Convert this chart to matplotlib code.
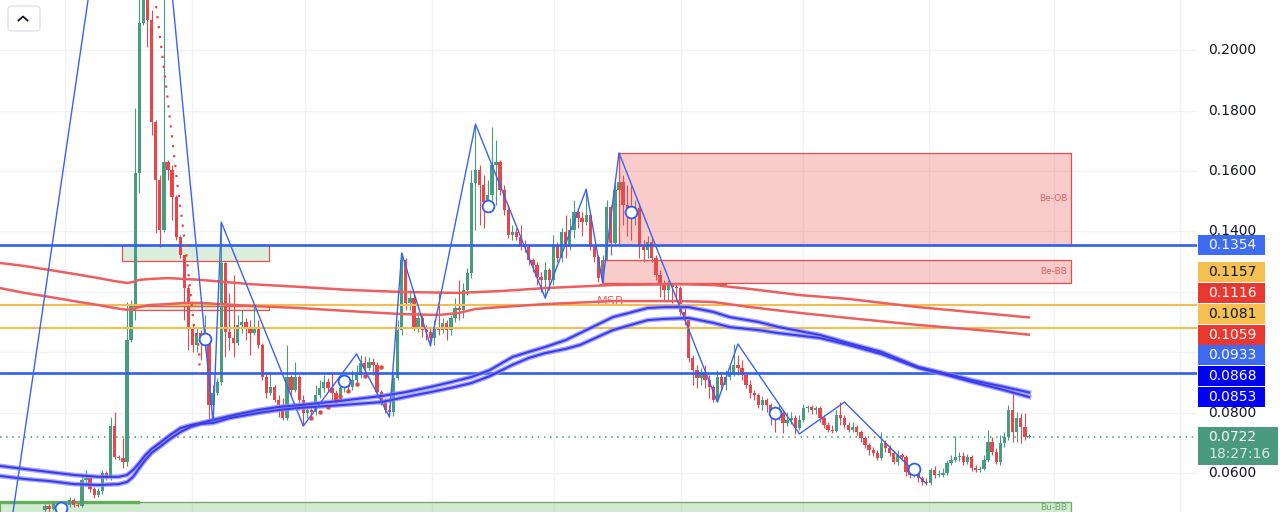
import matplotlib
matplotlib.use("Agg")
import matplotlib.pyplot as plt
from matplotlib.patches import Rectangle, FancyBboxPatch
from matplotlib.lines import Line2D
from matplotlib.transforms import IdentityTransform
import numpy as np

# ---- candles (open of each bar = previous close) ----
first_open = 0.0479
close = [
    .0493, .0482, .0499, .0493, .0486, .0496, .0512, .0496, .0494, .0579,
    .0585, .0549, .0529, .0542, .0602, .0585, .0757, .0655, .0651, .0638,
    .1041, .1157, .1593, .2089, .2198, .2099, .1762, .1570, .1405, .1630,
    .1603, .1514, .1382, .1322, .1213, .1081, .1025, .1064, .1035, .1051,
    .0826, .0866, .0902, .1296, .1068, .1048, .1031, .1091, .1101, .1081,
    .1064, .1084, .1025, .0919, .0866, .0886, .0843, .0826, .0783, .0919,
    .0876, .0919, .0843, .0800, .0810, .0803, .0860, .0883, .0902, .0883,
    .0866, .0843, .0883, .0899, .0886, .0909, .0926, .0965, .0949, .0969,
    .0959, .0870, .0836, .0810, .0803, .0916, .1074, .1306, .1164, .1180,
    .1081, .1114, .1074, .1068, .1048, .1084, .1074, .1098, .1074, .1114,
    .1147, .1141, .1207, .1263, .1560, .1603, .1554, .1498, .1521, .1620,
    .1630, .1537, .1471, .1388, .1398, .1382, .1355, .1349, .1306, .1289,
    .1250, .1240, .1273, .1240, .1355, .1312, .1398, .1349, .1405, .1464,
    .1445, .1431, .1454, .1349, .1316, .1246, .1306, .1481, .1362, .1537,
    .1564, .1488, .1471, .1461, .1478, .1355, .1339, .1365, .1312, .1256,
    .1223, .1207, .1223, .1217, .1213, .1134, .1107, .0982, .0942, .0916,
    .0935, .0909, .0886, .0843, .0919, .0893, .0919, .0932, .0959, .0949,
    .0926, .0893, .0866, .0860, .0826, .0843, .0826, .0800, .0783, .0800,
    .0767, .0777, .0783, .0750, .0777, .0817, .0820, .0810, .0817, .0783,
    .0760, .0744, .0741, .0793, .0783, .0760, .0744, .0754, .0737, .0717,
    .0694, .0678, .0668, .0651, .0701, .0684, .0668, .0638, .0661, .0655,
    .0605, .0595, .0602, .0585, .0572, .0569, .0612, .0595, .0595, .0602,
    .0635, .0645, .0655, .0658, .0638, .0655, .0618, .0612, .0615, .0645,
    .0704, .0671, .0638, .0701, .0721, .0810, .0737, .0783, .0754, .0721, .0722,
]
high = [
    .0499, .0499, .0509, .0503, .0496, .0506, .0522, .0519, .0503, .0592,
    .0612, .0592, .0555, .0552, .0612, .0608, .0787, .0803, .0661, .0717,
    .1167, .1174, .1808, .3322, .3000, .2500, .2132, .1769, .1587, .2198,
    .1636, .1620, .1521, .1388, .1322, .1223, .1091, .1081, .1074, .1124,
    .1058, .0893, .0916, .1431, .1299, .1197, .1256, .1124, .1141, .1114,
    .1107, .1157, .1107, .1031, .0935, .0935, .0893, .0860, .0850, .1025,
    .0926, .0969, .0926, .0860, .0826, .0836, .0893, .0909, .0926, .0916,
    .0935, .0876, .0899, .0916, .0909, .0942, .0959, .0992, .0989, .0985,
    .0982, .0969, .0876, .0850, .0826, .0935, .1107, .1329, .1312, .1207,
    .1190, .1134, .1124, .1091, .1081, .1107, .1200, .1114, .1107, .1124,
    .1180, .1240, .1230, .1279, .1603, .1755, .1620, .1587, .1570, .1745,
    .1703, .1636, .1554, .1488, .1421, .1411, .1421, .1372, .1355, .1312,
    .1299, .1266, .1299, .1279, .1388, .1365, .1411, .1454, .1445, .1504,
    .1478, .1464, .1540, .1464, .1355, .1322, .1322, .1504, .1488, .1577,
    .1660, .1587, .1554, .1554, .1504, .1494, .1372, .1385, .1378, .1322,
    .1273, .1240, .1240, .1230, .1223, .1220, .1147, .1114, .0992, .0959,
    .0949, .0959, .0926, .0893, .0942, .0935, .0942, .0959, .1028, .0992,
    .0975, .0935, .0909, .0876, .0866, .0856, .0850, .0833, .0810, .0826,
    .0810, .0803, .0803, .0793, .0793, .0830, .0826, .0826, .0823, .0823,
    .0793, .0770, .0760, .0810, .0836, .0793, .0770, .0770, .0760, .0744,
    .0724, .0701, .0688, .0678, .0737, .0711, .0694, .0674, .0678, .0668,
    .0661, .0618, .0625, .0605, .0592, .0585, .0618, .0625, .0612, .0618,
    .0645, .0661, .0724, .0671, .0671, .0664, .0661, .0628, .0625, .0661,
    .0744, .0721, .0684, .0727, .0737, .0826, .0886, .0803, .0800, .0800, .0730,
]
low = [
    .0473, .0473, .0479, .0479, .0473, .0479, .0489, .0489, .0489, .0489,
    .0562, .0539, .0519, .0522, .0532, .0579, .0579, .0648, .0645, .0618,
    .0625, .1035, .1107, .1527, .2083, .2010, .1719, .1395, .1349, .1398,
    .1570, .1438, .1372, .1312, .1107, .1008, .1002, .1002, .0975, .1008,
    .0777, .0767, .0860, .0893, .0985, .1008, .0985, .1025, .1064, .1041,
    .0992, .1058, .1015, .0909, .0850, .0860, .0836, .0787, .0777, .0777,
    .0860, .0870, .0810, .0760, .0783, .0783, .0793, .0850, .0870, .0870,
    .0843, .0833, .0836, .0870, .0870, .0876, .0893, .0916, .0935, .0942,
    .0926, .0860, .0826, .0800, .0787, .0790, .0909, .1058, .1141, .1141,
    .1074, .1068, .1051, .1041, .1022, .1025, .1058, .1064, .1041, .1058,
    .1101, .1107, .1114, .1190, .1246, .1405, .1421, .1411, .1464, .1504,
    .1488, .1521, .1455, .1378, .1372, .1372, .1339, .1332, .1289, .1266,
    .1223, .1200, .1180, .1207, .1223, .1299, .1299, .1312, .1339, .1378,
    .1411, .1385, .1421, .1339, .1299, .1233, .1230, .1306, .1322, .1355,
    .1521, .1421, .1385, .1372, .1421, .1312, .1299, .1312, .1299, .1240,
    .1183, .1174, .1174, .1164, .1174, .1124, .1091, .0969, .0893, .0883,
    .0893, .0883, .0850, .0836, .0836, .0876, .0876, .0909, .0922, .0926,
    .0909, .0883, .0850, .0843, .0817, .0810, .0803, .0760, .0737, .0777,
    .0734, .0757, .0764, .0731, .0744, .0770, .0803, .0797, .0797, .0770,
    .0750, .0737, .0734, .0737, .0760, .0750, .0737, .0737, .0727, .0704,
    .0684, .0661, .0658, .0645, .0645, .0671, .0658, .0631, .0628, .0645,
    .0592, .0585, .0589, .0572, .0562, .0562, .0562, .0585, .0589, .0589,
    .0595, .0628, .0638, .0641, .0628, .0631, .0608, .0605, .0605, .0612,
    .0638, .0661, .0631, .0628, .0688, .0711, .0704, .0704, .0701, .0711, .0717,
]

# ---- moving averages (bar index, price) ----
ma_slow_idx = [-11, -5, 1, 7, 13, 17, 20, 21.5, 23, 25.5, 30, 34, 38, 50, 62, 74, 87,
               101, 111, 122, 138.5, 155, 163, 172, 184, 196, 213, 228, 240]
ma_slow = [.1296, .1286, .1273, .1260, .1246, .1236, .1230, .1233, .1240, .1243,
           .1246, .1243, .1240, .1226, .1217, .1207, .1200, .1197, .1203, .1213,
           .1223, .1226, .1223, .1210, .1190, .1177, .1150, .1131, .1116]
ma_fast_idx = [-11, -5, 1, 7, 13, 17, 20, 21.5, 23, 25.5, 30, 34, 38, 50, 62, 74, 87,
               96, 101, 105, 111, 122, 138.5, 155, 163, 172, 184, 196, 213, 228, 240]
ma_fast = [.1213, .1197, .1184, .1170, .1157, .1147, .1141, .1144, .1150, .1157,
           .1160, .1164, .1164, .1154, .1147, .1137, .1127, .1124, .1131, .1144,
           .1150, .1160, .1170, .1170, .1167, .1150, .1131, .1114, .1091, .1074, .1059]

ema_idx = [-11, -5, 1, 7, 13, 18, 20, 21.5, 23, 24.5, 26, 28, 30.5, 33, 35.5, 38, 41,
           45, 52, 57, 62, 72, 82, 88, 94, 99, 104, 108.5, 114, 118, 122, 127, 130.5,
           138.5, 147, 151, 157, 163, 167, 174, 179, 189, 196, 204, 213, 221, 226, 233, 240]
ema_a = [.0625, .0615, .0605, .0595, .0589, .0589, .0595, .0612, .0635, .0661,
         .0681, .0701, .0727, .0750, .0760, .0767, .0777, .0790, .0810, .0820,
         .0826, .0840, .0856, .0869, .0886, .0902, .0919, .0942, .0985, .1002,
         .1018, .1041, .1064, .1117, .1147, .1150, .1150, .1134, .1117, .1101,
         .1084, .1058, .1031, .1002, .0952, .0926, .0909, .0889, .0868]
ema_b = [.0592, .0582, .0575, .0565, .0562, .0565, .0572, .0589, .0618, .0645,
         .0668, .0688, .0714, .0737, .0754, .0764, .0767, .0783, .0800, .0810,
         .0817, .0826, .0836, .0853, .0869, .0883, .0899, .0922, .0959, .0982,
         .0998, .1012, .1025, .1074, .1107, .1111, .1114, .1098, .1084, .1074,
         .1064, .1048, .1025, .0995, .0949, .0922, .0903, .0879, .0853]

# ---- zigzag swings and markers ----
zz_idx = [-8, 23, 41, 43, 63, 76, 84, 87, 94, 105, 122, 132, 136, 140, 164, 169, 184, 195, 215]
zz_px = [.0454, .3322, .0767, .1431, .0757, .0995, .0787, .1329, .1022, .1755,
         .1180, .1540, .1230, .1660, .0836, .1028, .0731, .0836, .0566]
circ_idx = [4, 39, 73, 108, 143, 178, 212]
circ_px = [.0486, .1045, .0906, .1484, .1464, .0800, .0615]

sar_line_idx = [27.1, 29.5, 32.2, 34.6, 36.3, 37.6, 37.7]
sar_line_px = [.2145, .1888, .1567, .1312, .1091, .1015, .0926]
sar_dot_idx = [65, 67, 69, 71, 72, 74, 76, 78, 82]
sar_dot_px = [.0783, .0803, .0820, .0843, .0856, .0873, .0896, .0922, .0952]

# ---- levels / zones ----
hl_blue = [0.1354, 0.0933]
hl_yellow = [0.1157, 0.1081]
last_price = 0.0722
last_time = "18:27:16"

# zones: (left idx, right idx, bottom, top)
bull_ob1 = (18.8, 54.6, .1302, .1355)
bull_ob2 = (20.7, 54.6, .1139, .1155)
be_ob = (140.0, 250.2, .1355, .1660)
be_bb = (136.1, 250.2, .1230, .1306)
bu_bb = (-11.0, 250.2, .0400, .0506)
msb = (135.4, 166.0, .1226)

grid_idx = [4.9, 35.9, 63.4, 94.4, 124.1, 155.1, 184.9, 215.6, 246.1, 276.8]
price_ticks = [0.06, 0.08, 0.10, 0.12, 0.14, 0.16, 0.18, 0.20]

lab_vals = [0.1354, 0.1157, 0.1116, 0.1081, 0.1059, 0.0933, 0.0868, 0.0853]
lab_cols = ['#3d6cf2', '#f4c04f', '#e8382f', '#f4c04f', '#e8382f', '#3d6cf2', '#0000f5', '#0000f5']

UP, DOWN = '#489c82', '#e4484d'
W, H, PW = 1280, 512, 1197
YLIM = (0.04727, 0.21653)
PPX = (YLIM[1] - YLIM[0]) / H

fig = plt.figure(figsize=(W / 100, H / 100), dpi=100)
fig.patch.set_facecolor('white')
ax = fig.add_axes([0, 0, PW / W, 1])
ax.set_xlim(-10.976, 280.98)
ax.set_ylim(*YLIM)
ax.axis('off')

for t in price_ticks:
    ax.axhline(t, color='#f0f2f6', lw=1, zorder=0)
for g in grid_idx:
    ax.axvline(g, color='#f0f2f6', lw=1, zorder=0)

# zones
def zone(z, fc, ec, a, zo=1):
    ax.add_patch(Rectangle((z[0], z[2]), z[1] - z[0], z[3] - z[2], facecolor=fc,
                           edgecolor='none', alpha=a, zorder=zo))
    ax.add_patch(Rectangle((z[0], z[2]), z[1] - z[0], z[3] - z[2], facecolor='none',
                           edgecolor=ec, lw=0.9, zorder=zo + 0.1))

zone(bull_ob1, '#cfe8cf', '#e25555', 0.75)
zone(bull_ob2, '#cfe8cf', '#e25555', 0.75)
zone(bu_bb, '#5cb85c', '#6aaa5a', 0.28)
ax.plot([bu_bb[0], bull_ob1[0] + 3.9], [bu_bb[3]] * 2, color='#62ad5c', lw=2.4, zorder=2)

# candles
c = np.array(close)
o = np.r_[first_open, c[:-1]]
hi = np.maximum(np.array(high), np.maximum(o, c))
lo = np.minimum(np.array(low), np.minimum(o, c))
idx = np.arange(len(c))
col = np.where(c >= o, UP, DOWN)
ax.vlines(idx, lo, hi, colors=col, lw=0.8, zorder=3)
ax.bar(idx, np.maximum(np.abs(c - o), 0.0003), bottom=np.minimum(o, c), width=0.82,
       color=col, lw=0, zorder=3)

zone(be_ob, '#ec5353', '#e05050', 0.3, zo=3.5)
zone(be_bb, '#ec5353', '#e05050', 0.3, zo=3.5)
ax.plot([msb[0], msb[1]], [msb[2], msb[2]], color='#e05050', lw=1, zorder=3.6)
ax.text(138, 0.1170, 'MSB', color='#e87070', fontsize=9, ha='center', va='center', zorder=4)
ax.text(249.3, (be_ob[2] + be_ob[3]) / 2, 'Be-OB', color='#e06060', fontsize=6.5, ha='right', va='center', zorder=4)
ax.text(249.3, (be_bb[2] + be_bb[3]) / 2, 'Be-BB', color='#e06060', fontsize=6.5, ha='right', va='center', zorder=4)
ax.text(249.3, 0.0486, 'Bu-BB', color='#6aa86a', fontsize=6.5, ha='right', va='center', zorder=4)

# horizontal levels
for v in hl_blue:
    ax.axhline(v, color='#2f5ef0', lw=1.9, zorder=4)
for v in hl_yellow:
    ax.axhline(v, color='#f5bd4f', lw=1.5, zorder=4)
ax.axhline(last_price, color='#4a9a80', lw=1.1, ls=(0, (1, 3)), zorder=4)

# moving averages
ax.plot(ma_slow_idx, ma_slow, color='#ef5e5e', lw=1.8, zorder=5, solid_joinstyle='round')
ax.plot(ma_fast_idx, ma_fast, color='#ef5e5e', lw=1.8, zorder=5, solid_joinstyle='round')
for e in (ema_a, ema_b):
    ax.plot(ema_idx, e, color='#8c8cf6', lw=3.4, alpha=0.75, zorder=5, solid_joinstyle='round')
    ax.plot(ema_idx, e, color='#3b3bef', lw=1.5, zorder=5.1, solid_joinstyle='round')

# SAR dots
ax.plot(sar_line_idx, sar_line_px, color='#e64545', lw=1.6, ls=(0, (1, 3.5)), zorder=5)
ax.scatter(sar_dot_idx, sar_dot_px, s=5, color='#e64545', zorder=5)

# zigzag and markers
ax.plot(zz_idx, zz_px, color='#3b62f0', lw=1.0, zorder=6)
ax.plot(circ_idx, circ_px, 'o', ms=8.5, mfc='white', mec='#2f5ef0', mew=1.3, zorder=7)

# right price scale
rax = fig.add_axes([PW / W, 0, (W - PW) / W, 1])
rax.set_xlim(0, W - PW)
rax.set_ylim(*YLIM)
rax.axis('off')

LAB_H = 20.8 * PPX
pos = {}
prev = None
for k in np.argsort(lab_vals):
    y = lab_vals[k] if prev is None else max(lab_vals[k], prev + LAB_H)
    pos[k] = y
    prev = y

for t in price_ticks:
    # tick labels hidden behind a price label are not drawn
    if min(abs(t - p) for p in pos.values()) < 12 * PPX:
        continue
    rax.text(11, t, f'{t:.4f}', fontsize=10, color='#131722', ha='left', va='center', zorder=1)

for k, v in enumerate(lab_vals):
    y = pos[k]
    rax.add_patch(Rectangle((1, y - 10 * PPX), 67, 20 * PPX, facecolor=lab_cols[k],
                            edgecolor='none', zorder=2))
    tc = '#131722' if lab_cols[k] == '#f4c04f' else 'white'
    rax.text(11, y, f'{v:.4f}', fontsize=10, color=tc, ha='left', va='center', zorder=3)

rax.add_patch(Rectangle((1, last_price - 28 * PPX), 80, 38 * PPX, facecolor='#4a9a80',
                        edgecolor='none', zorder=2))
rax.text(11, last_price, f'{last_price:.4f}', fontsize=10, color='white', ha='left', va='center', zorder=3)
rax.text(11, last_price - 17 * PPX, last_time, fontsize=10, color='#d4ebe2', ha='left', va='center', zorder=3)

# collapse button top-left
ident = IdentityTransform()
fig.add_artist(FancyBboxPatch((8, H - 31), 32, 25, boxstyle='round,pad=0,rounding_size=4',
                              transform=ident, facecolor='white', edgecolor='#e0e3eb', lw=1))
fig.add_artist(Line2D([18.5, 23, 27.5], [H - 20.5, H - 16.5, H - 20.5], transform=ident,
                      color='#131722', lw=1.3))

fig.savefig('out.png', dpi=100)
